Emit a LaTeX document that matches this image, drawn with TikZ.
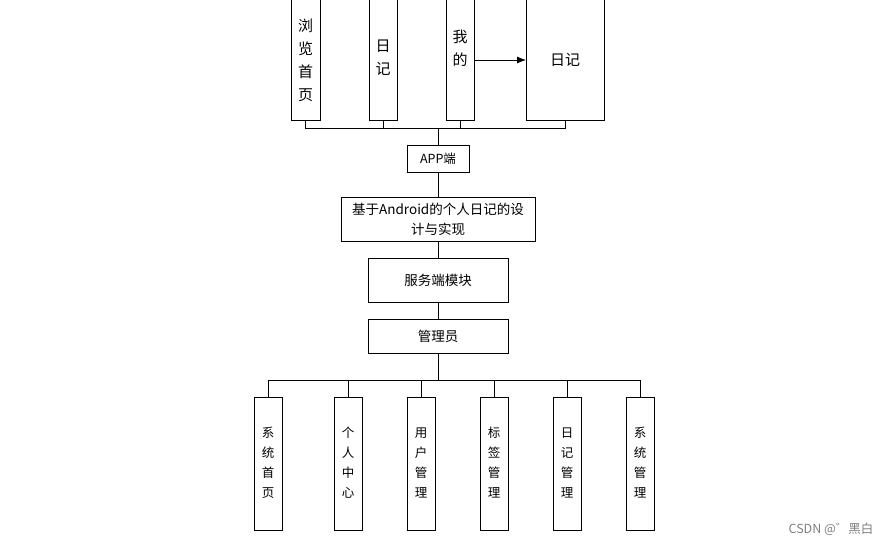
\documentclass[tikz,border=0pt]{standalone}
\usepackage{fontspec}
\newfontfamily\cjk{Noto Sans CJK SC}
\usetikzlibrary{arrows.meta}
\begin{document}
\begin{tikzpicture}[x=1pt,y=-1pt,
  box/.style={draw,line width=0.8pt,inner sep=0pt},
  vt/.style={font=\cjk\fontsize{15}{23}\selectfont,align=center},
  vs/.style={font=\cjk\fontsize{12.5}{20}\selectfont,align=center},
  ln/.style={line width=0.8pt}]
\useasboundingbox (0,0) rectangle (888,545);
\clip (0,0) rectangle (888,545);
% top boxes
\draw[box] (291,-5) rectangle (320,120); \node[vt] (t1) at (305.5,60) {浏\\览\\首\\页};
\draw[box] (369,-5) rectangle (397,120); \node[vt] (t2) at (383,58) {日\\记};
\draw[box] (446,-5) rectangle (474,120); \node[vt] (t3) at (460,48) {我\\的};
\draw[box] (526,-5) rectangle (604,120); \node[vt] (t4) at (565,60) {日记};
\coordinate (a1) at (474,60); \coordinate (a2) at (526,60);
\draw[ln,-{Latex[length=9pt,width=7pt]}] (a1) -- (a2);
\coordinate (b1) at (305.5,120); \coordinate (b2) at (383,120);
\coordinate (b3) at (460,120); \coordinate (b4) at (565,120);
\draw[ln] (b1) -- (305.5,128) -| (b4);
\draw[ln] (b2) -- (383,128); \draw[ln] (b3) -- (460,128);
\node[box,minimum width=62pt,minimum height=27pt,font=\cjk\fontsize{12.5}{14}\selectfont] (app) at (438,158.5) {APP端};
\draw[ln] (438,128) -- (app.north);
\node[box,minimum width=194pt,minimum height=44pt,text width=190pt,align=center,font=\cjk\fontsize{13.5}{20}\selectfont] (main) at (438,219) {基于Android的个人日记的设\\计与实现};
\draw[ln] (app) -- (main);
\node[box,minimum width=140pt,minimum height=44pt,font=\cjk\fontsize{13.5}{15}\selectfont] (srv) at (438,280) {服务端模块};
\draw[ln] (main) -- (srv);
\node[box,minimum width=140pt,minimum height=34pt,font=\cjk\fontsize{13.5}{15}\selectfont] (adm) at (438,336) {管理员};
\draw[ln] (srv) -- (adm);
\draw[ln] (adm.south) -- (438,380);
\draw[ln] (268,397) -- (268,380) -- (640,380) -- (640,397);
\foreach \x/\t/\n in {268/{系\\统\\首\\页}/c1,348/{个\\人\\中\\心}/c2,421/{用\\户\\管\\理}/c3,494/{标\\签\\管\\理}/c4,567/{日\\记\\管\\理}/c5,640/{系\\统\\管\\理}/c6}{
  \draw[box] (\x-14,397) rectangle (\x+14,530);
  \node[vs] (\n) at (\x,463) {\t};
  \draw[ln] (\x,380) -- (\x,397);
}
\node[font=\cjk\fontsize{12.5}{14}\selectfont,text=gray,anchor=east] (wm) at (877,529) {CSDN @゛黑白};
\end{tikzpicture}
\end{document}
